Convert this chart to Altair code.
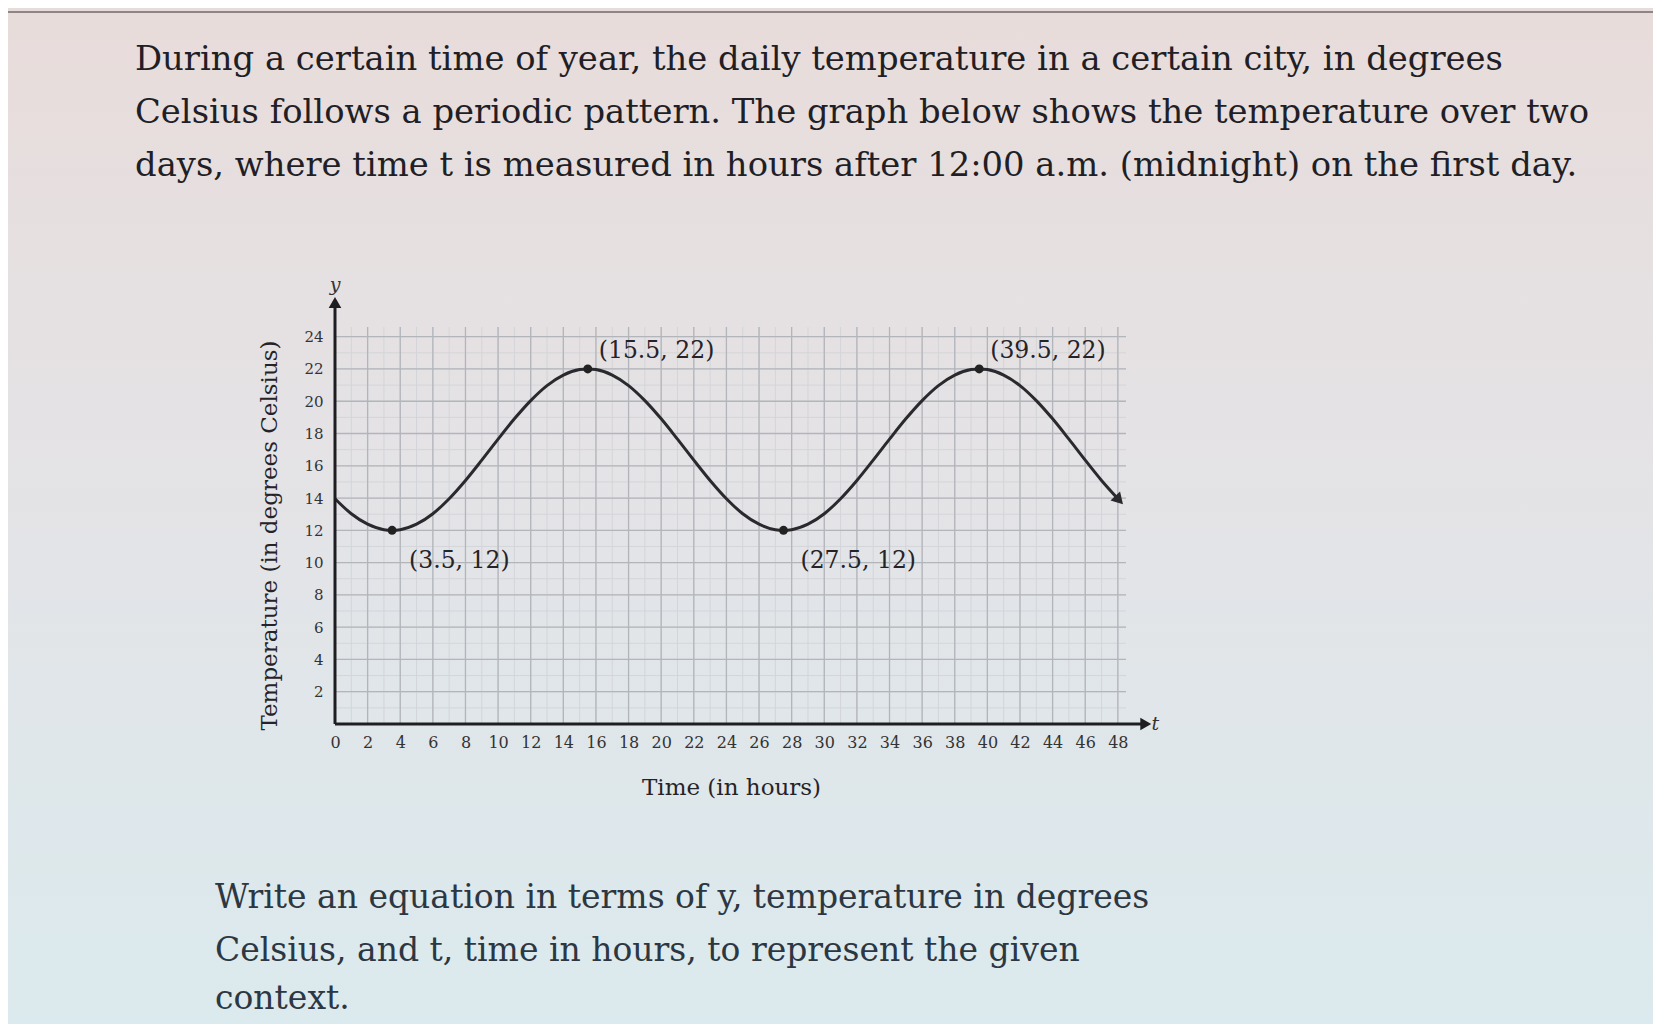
import altair as alt
import pandas as pd

# ---- data ----
hours = [0, 1, 2, 3, 3.5, 4, 5, 6, 7, 8, 9, 10, 11, 12, 13, 14, 15, 15.5, 16, 17, 18, 19, 20,
         21, 22, 23, 24, 25, 26, 27, 27.5, 28, 29, 30, 31, 32, 33, 34, 35, 36, 37, 38, 39, 39.5,
         40, 41, 42, 43, 44, 45, 46, 47, 48]
temps = [13.96, 13.03, 12.38, 12.04, 12.0, 12.04, 12.38, 13.03, 13.96, 15.09, 16.35, 17.65, 18.91,
         20.04, 20.97, 21.62, 21.96, 22.0, 21.96, 21.62, 20.97, 20.04, 18.91, 17.65, 16.35, 15.09,
         13.96, 13.03, 12.38, 12.04, 12.0, 12.04, 12.38, 13.03, 13.96, 15.09, 16.35, 17.65, 18.91,
         20.04, 20.97, 21.62, 21.96, 22.0, 21.96, 21.62, 20.97, 20.04, 18.91, 17.65, 16.35, 15.09,
         13.96]

peak_t = [15.5, 39.5]
peak_y = [22, 22]
peak_lbl = ["(15.5, 22)", "(39.5, 22)"]
trough_t = [3.5, 27.5]
trough_y = [12, 12]
trough_lbl = ["(3.5, 12)", "(27.5, 12)"]

x_ticks = list(range(0, 49, 2))
y_ticks = list(range(2, 25, 2))
x_grid = list(range(0, 49, 2))
y_grid = list(range(0, 25, 2))
x_minor = list(range(0, 49))
y_minor = list(range(0, 25))

top_lines = [
    "During a certain time of year, the daily temperature in a certain city, in degrees",
    "Celsius follows a periodic pattern. The graph below shows the temperature over two",
    "days, where time t is measured in hours after 12:00 a.m. (midnight) on the first day.",
]
top_base = [70, 123, 176]
bottom_lines = [
    "Write an equation in terms of y, temperature in degrees",
    "Celsius, and t, time in hours, to represent the given",
    "context.",
]
bottom_base = [908, 961, 1009]

# ---- layout ----
W, H = 791, 397
PL, PT = 327, 319
CW, CH = 1645, 1016
PR, PB = CW - PL - W, CH - PT - H
SERIF = "DejaVu Serif"
INK = "#262328"

xs = alt.Scale(domain=[0, 48.5], nice=False, zero=False)
ys = alt.Scale(domain=[0, 24.6], nice=False, zero=False)

xaxis = alt.Axis(
    values=x_ticks, grid=False, domain=False, ticks=False, zindex=1,
    labelFont=SERIF, labelFontSize=16, labelColor="#333", labelPadding=10,
    labelFlush=False, labelOverlap=False,
    title="Time (in hours)", titleFont=SERIF, titleFontSize=23, titleFontWeight="normal",
    titleColor=INK, titleX=396, titleY=63, titleBaseline="middle",
)
yaxis = alt.Axis(
    values=y_ticks, grid=False, domain=False, ticks=False, zindex=1,
    labelFont=SERIF, labelFontSize=15, labelColor="#333", labelPadding=12,
    labelFlush=False, labelOverlap=False,
    title="Temperature (in degrees Celsius)", titleFont=SERIF, titleFontSize=23,
    titleFontWeight="normal", titleColor=INK, titleX=-66, titleY=208,
    titleBaseline="middle", titleAngle=270,
)


def X(f):
    return alt.X(f, scale=xs, axis=xaxis)


def Y(f):
    return alt.Y(f, scale=ys, axis=yaxis)


curve = pd.DataFrame({"t": hours, "y": temps})
peaks = pd.DataFrame({"t": peak_t, "y": peak_y, "lbl": peak_lbl})
troughs = pd.DataFrame({"t": trough_t, "y": trough_y, "lbl": trough_lbl})

bg = alt.Chart(pd.DataFrame({"a": [0]})).mark_rect(
    fill=alt.Gradient(
        gradient="linear",
        stops=[
            alt.GradientStop(color="#e8dcda", offset=0),
            alt.GradientStop(color="#e4e3e6", offset=0.45),
            alt.GradientStop(color="#dbeaee", offset=1),
        ],
        x1=0, x2=0, y1=0, y2=1,
    )
).encode(x=alt.value(-PL), x2=alt.value(W + PR), y=alt.value(-PT), y2=alt.value(H + PB))

topline = alt.Chart(pd.DataFrame({"a": [0]})).mark_rule(color="#8e8686", strokeWidth=2).encode(
    x=alt.value(-PL), x2=alt.value(W + PR), y=alt.value(12 - 8 - PT)
)

minor_v = alt.Chart(pd.DataFrame({"t": x_minor})).mark_rule(color="#d3d5d9", strokeWidth=1).encode(
    x=X("t:Q"), y=alt.value(0), y2=alt.value(H)
)
minor_h = alt.Chart(pd.DataFrame({"y": y_minor})).mark_rule(color="#d3d5d9", strokeWidth=1).encode(
    y=Y("y:Q"), x=alt.value(0), x2=alt.value(W)
)
major_v = alt.Chart(pd.DataFrame({"t": x_grid})).mark_rule(color="#b2b5ba", strokeWidth=1.3).encode(
    x=X("t:Q"), y=alt.value(0), y2=alt.value(H)
)
major_h = alt.Chart(pd.DataFrame({"y": y_grid})).mark_rule(color="#b2b5ba", strokeWidth=1.3).encode(
    y=Y("y:Q"), x=alt.value(0), x2=alt.value(W)
)

line = alt.Chart(curve).mark_line(color="#2a2a2e", strokeWidth=3, interpolate="monotone").encode(
    x=X("t:Q"), y=Y("y:Q")
)

end_arrow = alt.Chart(curve.tail(1)).mark_point(
    shape="triangle", filled=True, color="#2a2a2e", size=170, angle=137, opacity=1
).encode(x=X("t:Q"), y=Y("y:Q"))

axes_df = pd.DataFrame({"x0": [0, 0], "y0": [0, 0], "x1": [0, 49.6], "y1": [26.0, 0]})
axis_lines = alt.Chart(axes_df).mark_rule(color="#1e1e22", strokeWidth=3).encode(
    x=X("x0:Q"), y=Y("y0:Q"), x2="x1:Q", y2="y1:Q",
)
arrow_df = pd.DataFrame({"x": [0, 49.6], "y": [26.0, 0], "ang": [0, 90]})
axis_heads = alt.Chart(arrow_df).mark_point(
    shape="triangle", filled=True, color="#1e1e22", size=160, opacity=1
).encode(x=X("x:Q"), y=Y("y:Q"), angle=alt.Angle("ang:Q", scale=None))
axis_names = alt.Chart(pd.DataFrame({"x": [0, 50.3], "y": [27.2, 0], "s": ["y", "t"]})).mark_text(
    font=SERIF, fontSize=19, fontStyle="italic", color="#333", align="center", baseline="middle"
).encode(x=X("x:Q"), y=Y("y:Q"), text="s:N")

dots_p = alt.Chart(peaks).mark_circle(color="#222", size=80, opacity=1).encode(x=X("t:Q"), y=Y("y:Q"))
dots_t = alt.Chart(troughs).mark_circle(color="#222", size=80, opacity=1).encode(x=X("t:Q"), y=Y("y:Q"))

lbl_p = alt.Chart(peaks).mark_text(
    font=SERIF, fontSize=23.5, color=INK, align="left", baseline="middle", dx=11, dy=-18
).encode(x=X("t:Q"), y=Y("y:Q"), text="lbl:N")
lbl_t = alt.Chart(troughs).mark_text(
    font=SERIF, fontSize=23.5, color=INK, align="left", baseline="middle", dx=17, dy=31
).encode(x=X("t:Q"), y=Y("y:Q"), text="lbl:N")

top_df = pd.DataFrame({"s": top_lines, "b": top_base})
top_text = alt.Chart(top_df).transform_calculate(py=f"datum.b - {8 + PT}").mark_text(
    font=SERIF, fontSize=33.8, color="#221e26", align="left", baseline="alphabetic"
).encode(x=alt.value(135 - 8 - PL), y=alt.Y("py:Q", scale=None), text="s:N")

bot_df = pd.DataFrame({"s": bottom_lines, "b": bottom_base})
bot_text = alt.Chart(bot_df).transform_calculate(py=f"datum.b - {8 + PT}").mark_text(
    font=SERIF, fontSize=33, color="#2c3742", align="left", baseline="alphabetic"
).encode(x=alt.value(215 - 8 - PL), y=alt.Y("py:Q", scale=None), text="s:N")

chart = alt.layer(
    bg, topline, minor_v, minor_h, major_v, major_h, line, end_arrow, axis_lines, axis_heads,
    axis_names, dots_p, dots_t, lbl_p, lbl_t, top_text, bot_text,
).properties(
    width=W, height=H,
    autosize=alt.AutoSizeParams(type="none"),
    padding={"left": PL, "top": PT, "right": PR, "bottom": PB},
).configure_view(stroke=None).configure(background="#e4e2e4")

chart.save("out.html", embed_options={"renderer": "svg", "actions": False})
